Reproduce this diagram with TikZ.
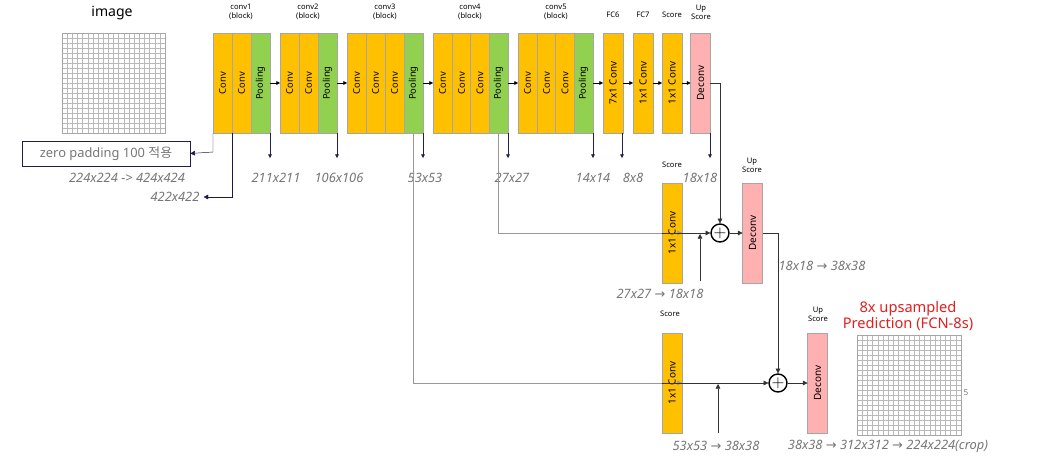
\documentclass[tikz,border=0pt]{standalone}
\usepackage{fontspec}
\setmainfont{Noto Sans}
\newfontfamily\kr{Noto Sans CJK KR}
\newfontfamily\dvs{DejaVu Sans}
\newcommand\myra{{\dvs\upshape →}}
\usetikzlibrary{arrows.meta}
\definecolor{cor}{HTML}{FFC000}
\definecolor{cgr}{HTML}{92D050}
\definecolor{cpk}{HTML}{FFB0B0}
\definecolor{cbd}{HTML}{A6A6A6}
\definecolor{cnv}{HTML}{1F2050}
\definecolor{ctx}{HTML}{767676}
\definecolor{cred}{HTML}{E02020}
\begin{document}
\begin{tikzpicture}[x=0.03cm,y=-0.03cm,
 cell/.style={draw=cbd,fill=#1,rotate=90,minimum width=3cm,minimum height=0.57cm,inner sep=0pt,outer sep=0pt,font=\fontsize{8}{9}\selectfont},
 cellw/.style={draw=cbd,fill=#1,rotate=90,minimum width=3cm,minimum height=0.6cm,inner sep=0pt,outer sep=0pt,font=\fontsize{8.5}{9}\selectfont},
 top/.style={font=\fontsize{6.5}{7.5}\selectfont,align=center},
 dim/.style={font=\fontsize{11}{12}\selectfont\itshape,text=ctx},
 dn/.style={draw=cnv,-{Triangle[length=3pt,width=3pt]}},
 gl/.style={draw=gray!80,-{Triangle[length=4pt,width=4pt]}},
 sm/.style={draw=black,-{Triangle[length=3pt,width=3pt]}},
 plus/.style={circle,draw,line width=1.2pt,minimum size=0.54cm,inner sep=0pt}]
\useasboundingbox (0,0) rectangle (1049,466);
% input image
\node[font=\fontsize{12}{13}\selectfont] (imgl) at (112,13) {image};
\draw[gray!60,fill=white] (62,33) rectangle (165,133);
\foreach \i in {0,...,20}{\draw[gray!55,line width=0.3pt] (62+\i*5.15,33) -- (62+\i*5.15,133); \draw[gray!55,line width=0.3pt] (62,33+\i*5) -- (165,33+\i*5);}
\draw[gray!70] (62,33) rectangle (165,133);
\node[draw=gray!60!blue!40!black,minimum width=5.04cm,minimum height=0.75cm,inner sep=0pt,font=\fontsize{11}{12}\selectfont\color{ctx}] (zp) at (106,153.5) {zero padding 100 {\kr 적용}};
\node[dim] (d0) at (127,178) {224x224 -> 424x424};
\node[dim] (d0b) at (175,197) {422x422};
% conv blocks
\node[cell=cor] (a1) at (222.5,83) {Conv};
\node[cell=cor] (a2) at (241.5,83) {Conv};
\node[cell=cgr] (a3) at (260.5,83) {Pooling};
\node[cell=cor] (b1) at (289.5,83) {Conv};
\node[cell=cor] (b2) at (308.5,83) {Conv};
\node[cell=cgr] (b3) at (327.5,83) {Pooling};
\node[cell=cor] (c1) at (356.5,83) {Conv};
\node[cell=cor] (c2) at (375.5,83) {Conv};
\node[cell=cor] (c3) at (394.5,83) {Conv};
\node[cell=cgr] (c4) at (413.5,83) {Pooling};
\node[cell=cor] (e1) at (442.5,83) {Conv};
\node[cell=cor] (e2) at (461.5,83) {Conv};
\node[cell=cor] (e3) at (480,83) {Conv};
\node[cell=cgr] (e4) at (498.5,83) {Pooling};
\node[cell=cor] (f1) at (527.5,83) {Conv};
\node[cell=cor] (f2) at (546.5,83) {Conv};
\node[cell=cor] (f3) at (565,83) {Conv};
\node[cell=cgr] (f4) at (583.5,83) {Pooling};
\node[cellw=cor] (fc6) at (613,83) {7x1 Conv};
\node[cellw=cor] (fc7) at (643,83) {1x1 Conv};
\node[cellw=cor] (sc) at (672,83) {1x1 Conv};
\node[cellw=cpk] (up) at (700.5,83) {Deconv};
\node[top] at (241,12) {conv1\\(block)};
\node[top] at (308,12) {conv2\\(block)};
\node[top] at (385,12) {conv3\\(block)};
\node[top] at (470,12) {conv4\\(block)};
\node[top] at (556,12) {conv5\\(block)};
\node[top] at (613,15) {FC6};
\node[top] at (643,15) {FC7};
\node[top] at (672,15) {Score};
\node[top] at (701,12) {Up\\Score};
% horizontal arrows
\foreach \s/\t in {a3/b1,b3/c1,c4/e1,e4/f1,f4/fc6,fc6/fc7,fc7/sc,sc/up}
  \draw[sm] (\s.south) -- (\t.north);
% side arrows
\draw[gl,draw=gray!50!blue!40!black] (213,133) -- (213,152) -- (zp.east);
\draw[gl,draw=gray!50!blue!40!black] (232,133) -- (232,197) -- (d0b.east);
\foreach \x/\l/\lx in {270/211x211/276,337/106x106/339,423/53x53/425,508/27x27/512,593/14x14/593,622/8x8/633,710/18x18/700}{
  \draw[dn] (\x,133) -- (\x,158);
  \node[dim] at (\lx,178) {\l};}
% score 4 branch
\node[top] at (672,165) {Score};
\node[cellw=cor] (s4) at (672,233) {1x1 Conv};
\node[plus] (p1) at (720,233) {\Large$+$};
\node[top] at (752,165) {Up\\Score};
\node[cellw=cpk] (u2) at (752.5,233) {Deconv};
\draw[gl] (498,133) -- (498,233) -- (s4.south);
\draw[gl,draw=black!80] (s4.north) -- (p1);
\draw[gl,draw=black!80] (710,83) -- (720,83) -- (p1);
\draw[gl,draw=black!80] (700,281) -- (700,234);
\draw[gl,draw=black!80] (p1) -- (u2.north);
\node[dim] at (660,294) {27x27 \myra{} 18x18};
\node[dim] at (822,266) {18x18 \myra{} 38x38};
% score 3 branch
\node[top] at (670,314) {Score};
\node[cellw=cor] (s3) at (672,383) {1x1 Conv};
\node[plus] (p2) at (778,383) {\Large$+$};
\node[top] at (818,314) {Up\\Score};
\node[cellw=cpk] (u3) at (817.5,383) {Deconv};
\draw[gl] (413,133) -- (413,383) -- (s3.south);
\draw[gl,draw=black!80] (s3.north) -- (p2);
\draw[gl,draw=black!80] (u2.south) -- (778,233) -- (p2);
\draw[gl,draw=black!80] (718,433) -- (718,384);
\draw[gl,draw=black!80] (p2) -- (u3.north);
\node[dim] at (716,446) {53x53 \myra{} 38x38};
\node[dim] at (888,446) {38x38 \myra{} 312x312 \myra{} 224x224(crop)};
% output
\node[font=\fontsize{12.5}{14}\selectfont,text=cred,align=center] (ttl) at (908,316) {8x upsampled\\Prediction (FCN-8s)};
\draw[gray!60,fill=white] (857,335) rectangle (961,435);
\foreach \i in {0,...,20}{\draw[gray!55,line width=0.3pt] (857+\i*5.2,335) -- (857+\i*5.2,435); \draw[gray!55,line width=0.3pt] (857,335+\i*5) -- (961,335+\i*5);}
\draw[gray!70] (857,335) rectangle (961,435);
\node[font=\fontsize{7}{8}\selectfont,text=ctx] (five) at (966,393) {5};
\end{tikzpicture}
\end{document}
